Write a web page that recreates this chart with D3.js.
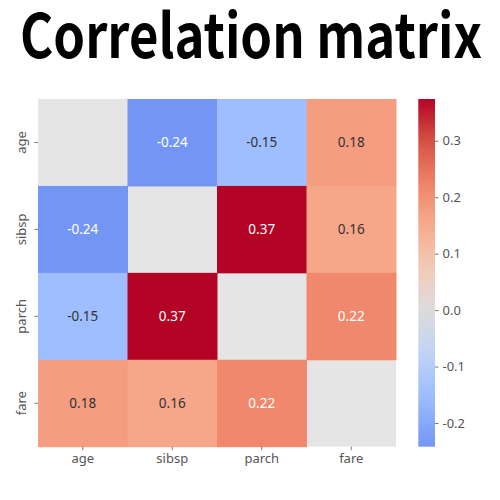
<!DOCTYPE html>
<html>
<head>
<meta charset="utf-8">
<script src="https://d3js.org/d3.v7.min.js"></script>
<style>
  body { margin: 0; background: #fff; }
  svg { display: block; }
</style>
</head>
<body>
<div id="chart"></div>
<script>
const vars = ["age", "sibsp", "parch", "fare"];
// upper triangle of correlations, the diagonal is masked
const pairs = [
    ["age", "sibsp", -0.242],
    ["age", "parch", -0.150],
    ["age", "fare", 0.178],
    ["sibsp", "parch", 0.374],
    ["sibsp", "fare", 0.160],
    ["parch", "fare", 0.217]
];
const cbarTicks = [-0.2, -0.1, 0.0, 0.1, 0.2, 0.3];

// matplotlib coolwarm sampled at 0, 0.1 ... 1
const coolwarm = ["#3b4cc0", "#5977e3", "#7b9ff9", "#9ebeff", "#c0d4f5", "#dddcdc",
                  "#f2cbb7", "#f7ac8e", "#ee8468", "#d65244", "#b40426"];
const cw = d3.scaleLinear().domain(d3.range(11).map(i => i / 10)).range(coolwarm)
    .interpolate(d3.interpolateRgb).clamp(true);

const cells = [];
for (const [a, b, v] of pairs) {
    cells.push({r: a, c: b, v: v});
    cells.push({r: b, c: a, v: v});
}
const vmin = d3.min(cells, d => d.v), vmax = d3.max(cells, d => d.v);
const vrange = Math.max(vmax, -vmin);
const color = v => cw(0.5 + v / (2 * vrange));
// ascii hyphen like matplotlib with unicode_minus off
const fmt = p => v => d3.format(p)(v).replace("\u2212", "-");

const W = 500, H = 500;
const svg = d3.select("#chart").append("svg").attr("width", W).attr("height", H);
const font = "'Noto Sans', 'DejaVu Sans', sans-serif";

svg.append("text")
    .attr("x", 251).attr("y", 58)
    .attr("text-anchor", "middle")
    .attr("font-family", "'Noto Sans CJK KR', 'Noto Sans', sans-serif")
    .attr("font-weight", "bold")
    .attr("font-size", 61)
    .attr("textLength", 462)
    .attr("lengthAdjust", "spacingAndGlyphs")
    .attr("fill", "#000")
    .text("Correlation matrix");

const x = d3.scaleBand().domain(vars).range([38, 396]);
const y = d3.scaleBand().domain(vars).range([99, 446.7]);

// masked diagonal shows the background
svg.append("rect")
    .attr("x", 38).attr("y", 99)
    .attr("width", 358).attr("height", 347.7)
    .attr("fill", "#e5e5e5");

svg.selectAll("rect.cell")
    .data(cells)
    .join("rect")
    .attr("class", "cell")
    .attr("x", d => x(d.c))
    .attr("y", d => y(d.r))
    .attr("width", x.bandwidth() + 0.5)
    .attr("height", y.bandwidth() + 0.5)
    .attr("fill", d => color(d.v));

function lum(c) {
    const rgb = d3.rgb(c);
    const f = u => { u /= 255; return u <= 0.03928 ? u / 12.92 : Math.pow((u + 0.055) / 1.055, 2.4); };
    return 0.2126 * f(rgb.r) + 0.7152 * f(rgb.g) + 0.0722 * f(rgb.b);
}

svg.selectAll("text.annot")
    .data(cells)
    .join("text")
    .attr("class", "annot")
    .attr("x", d => x(d.c) + x.bandwidth() / 2)
    .attr("y", d => y(d.r) + y.bandwidth() / 2)
    .attr("dy", "0.35em")
    .attr("text-anchor", "middle")
    .attr("font-family", font)
    .attr("font-size", 13.5)
    .attr("fill", d => lum(color(d.v)) < 0.408 ? "#fff" : "#333")
    .text(d => fmt(".2f")(d.v));

const axisStyle = g => {
    g.select(".domain").remove();
    g.selectAll(".tick line").attr("stroke", "#555").attr("stroke-width", 0.8);
    g.selectAll(".tick text").attr("fill", "#555").attr("font-family", font).attr("font-size", 13);
};

svg.append("g")
    .attr("transform", "translate(0,446.7)")
    .call(d3.axisBottom(x).tickSize(3.5).tickPadding(4))
    .call(axisStyle);

const gy = svg.append("g")
    .attr("transform", "translate(38,0)")
    .call(d3.axisLeft(y).tickSize(3.5).tickPadding(4))
    .call(axisStyle);
gy.selectAll(".tick text")
    .attr("transform", "rotate(-90)")
    .attr("text-anchor", "middle")
    .attr("x", 0).attr("y", -12)
    .attr("dy", 0);

// colorbar
const cb = d3.scaleLinear().domain([vmin, vmax]).range([446.7, 99]);
const defs = svg.append("defs");
const grad = defs.append("linearGradient").attr("id", "cbar")
    .attr("x1", 0).attr("y1", 1).attr("x2", 0).attr("y2", 0);
d3.range(0, 1.0001, 0.05).forEach(t => {
    grad.append("stop").attr("offset", t).attr("stop-color", color(vmin + t * (vmax - vmin)));
});
svg.append("rect")
    .attr("x", 418.3).attr("y", 99)
    .attr("width", 16.7).attr("height", 347.7)
    .attr("fill", "url(#cbar)");

svg.append("g")
    .attr("transform", "translate(435,0)")
    .call(d3.axisRight(cb).tickValues(cbarTicks).tickFormat(fmt(".1f")).tickSize(3.5).tickPadding(4))
    .call(axisStyle);
</script>
</body>
</html>
